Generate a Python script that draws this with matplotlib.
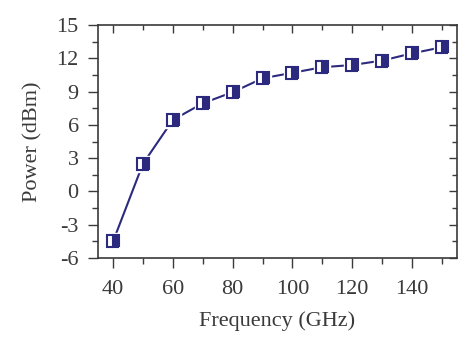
import matplotlib
matplotlib.use("Agg")
import matplotlib.pyplot as plt
from matplotlib.ticker import MultipleLocator

freq = [40, 50, 60, 70, 80, 90, 100, 110, 120, 130, 140, 150]
power = [-4.5, 2.5, 6.45, 7.95, 8.95, 10.2, 10.7, 11.2, 11.4, 11.8, 12.45, 13.0]
xticks = [40, 60, 80, 100, 120, 140]
yticks = [-6, -3, 0, 3, 6, 9, 12, 15]

plt.rcParams['font.family'] = ['Liberation Serif', 'DejaVu Serif']
color = '#2b2a7e'
tc = '#3a3a3a'

fig = plt.figure(figsize=(4.74, 3.53), dpi=100)
ax = fig.add_axes([0.207, 0.269, 0.757, 0.660])
ax.plot(freq, power, color=color, lw=1.5, zorder=2)
ax.plot(freq, power, ls='none', marker='s', markersize=11, color='white', zorder=3)
ax.plot(freq, power, ls='none', marker='s', markersize=8, fillstyle='right',
        markerfacecolor=color, markerfacecoloralt='white',
        markeredgecolor=color, markeredgewidth=1.5, zorder=4)
ax.set_xlim(35, 155)
ax.set_ylim(-6, 15)
ax.set_xticks(xticks)
ax.set_yticks(yticks)
ax.set_yticklabels([str(v) for v in yticks])
ax.xaxis.set_minor_locator(MultipleLocator(10))
ax.yaxis.set_minor_locator(MultipleLocator(1.5))
ax.tick_params(which='both', direction='out', top=False, right=False, labelsize=16, colors=tc)
ax.tick_params(which='major', length=7, width=1)
ax.tick_params(which='minor', length=4, width=1)
ax.tick_params(axis='x', which='major', pad=9)
ax.tick_params(axis='y', which='major', pad=7)
# inward ticks on top and right
sec_x = ax.secondary_xaxis('top')
sec_x.set_xticks(xticks)
sec_x.xaxis.set_minor_locator(MultipleLocator(10))
sec_x.tick_params(which='both', direction='in', labeltop=False, colors=tc)
sec_x.tick_params(which='major', length=6, width=1)
sec_x.tick_params(which='minor', length=3.5, width=1)
sec_y = ax.secondary_yaxis('right')
sec_y.set_yticks(yticks)
sec_y.yaxis.set_minor_locator(MultipleLocator(1.5))
sec_y.tick_params(which='both', direction='in', labelright=False, colors=tc)
sec_y.tick_params(which='major', length=6, width=1)
sec_y.tick_params(which='minor', length=3.5, width=1)
for s in ax.spines.values():
    s.set_linewidth(1.2)
    s.set_color(tc)
for sec in (sec_x, sec_y):
    for s in sec.spines.values():
        s.set_visible(False)
ax.set_xlabel('Frequency (GHz)', fontsize=16, color=tc, labelpad=9)
ax.set_ylabel('Power (dBm)', fontsize=16, color=tc, labelpad=10)
fig.savefig('out.png', dpi=100)
